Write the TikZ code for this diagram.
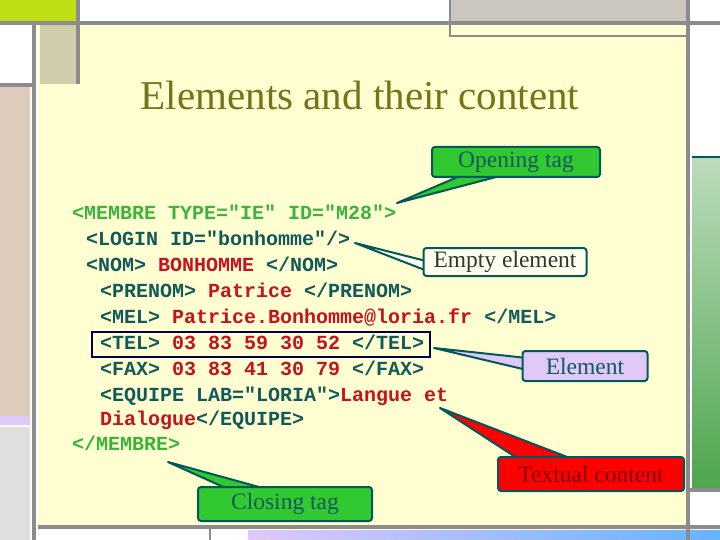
\documentclass[tikz,border=0pt]{standalone}
\usepackage{fontspec}
\setmainfont{Liberation Serif}
\setmonofont{Liberation Mono}
\begin{document}
\begin{tikzpicture}[x=1pt,y=-1pt,
  code/.style={anchor=base west,inner sep=0pt,font=\ttfamily\bfseries\fontsize{20}{20}\selectfont},
  callout/.style={draw=teal!70!black,line width=2pt,rounded corners=3pt,minimum height=30pt,inner sep=2pt,font=\fontsize{23.5}{23.5}\selectfont},
  grayline/.style={draw=gray!90,line width=4pt}]
\definecolor{cream}{RGB}{255,255,210}
\definecolor{tg}{RGB}{60,180,60}
\definecolor{tt}{RGB}{16,90,90}
\definecolor{tr}{RGB}{200,16,32}
\definecolor{cgreen}{RGB}{50,200,50}
\definecolor{lav}{RGB}{224,200,248}
\useasboundingbox (0,0) rectangle (720,540);
\fill[white] (0,0) rectangle (720,540);
\fill[cream] (38,24) rectangle (688,525);
\fill[yellow!75!green] (0,0) rectangle (78,22);
\fill[gray!30!yellow!40!gray!60] (40,24) rectangle (78,84);
\fill[gray!35!brown!40] (0,86) rectangle (30,416);
\fill[lav] (0,416) rectangle (30,425);
\fill[gray!25] (0,427) rectangle (30,540);
\fill[brown!20!gray!45] (450,0) rectangle (688,22);
\shade[top color=green!30!gray!40,bottom color=green!50!black!70] (692,157) rectangle (720,490);
\shade[left color=lav,right color=blue!50!cyan!60] (248,530) rectangle (720,540);
\draw[grayline] (0,23) -- (720,23);
\draw[grayline] (34,24) -- (34,540);
\draw[grayline] (0,85) -- (34,85);
\draw[grayline] (78,0) -- (78,84);
\draw[grayline] (688,0) -- (688,540);
\draw[grayline] (38,527) -- (720,527);
\draw[grayline] (688,490) -- (720,490);
\draw[gray!90,line width=2pt] (450,0) -- (450,36) -- (688,36);
\draw[gray!90,line width=2pt] (210,527) -- (210,540);
\draw[teal!70!black,line width=2pt] (692,157) -- (720,157);
\node[text=olive!80!black,font=\fontsize{41}{41}\selectfont] (title) at (360,95) {Elements and their content};
% code
\node[code,text=tg] (l1) at (72,219) {<MEMBRE TYPE="IE" ID="M28">};
\node[code,text=tt] (l2) at (86,245) {<LOGIN ID="bonhomme"/>};
\node[code,text=tt] (l3) at (86,271) {<NOM> \textcolor{tr}{BONHOMME} </NOM>};
\node[code,text=tt] (l4) at (100,297) {<PRENOM> \textcolor{tr}{Patrice} </PRENOM>};
\node[code,text=tt] (l5) at (100,323) {<MEL> \textcolor{tr}{Patrice.Bonhomme@loria.fr} </MEL>};
\node[code,text=tt] (l6) at (100,349) {<TEL> \textcolor{tr}{03 83 59 30 52} </TEL>};
\node[code,text=tt] (l7) at (100,375) {<FAX> \textcolor{tr}{03 83 41 30 79} </FAX>};
\node[code,text=tt] (l8) at (100,401) {<EQUIPE LAB="LORIA">\textcolor{tr}{Langue et}};
\node[code,text=tt] (l9) at (100,425) {\textcolor{tr}{Dialogue}</EQUIPE>};
\node[code,text=tg] (l10) at (72,450) {</MEMBRE>};
\node[draw=blue!30!black,line width=2pt,minimum width=338pt,minimum height=25pt,inner sep=0pt] (telbox) at (261,344) {};
% callouts
\coordinate (t1) at (397,203);
\coordinate (t2) at (355,243);
\coordinate (t3) at (434,348);
\coordinate (t4) at (440,408);
\coordinate (t5) at (168,462);
\begin{scope}[draw=teal!70!black,line width=2pt,line join=round]
\filldraw[fill=cgreen] (460,176) -- (t1) -- (500,176) -- cycle;
\filldraw[fill=cream!40!white] (430,262) -- (t2) -- (430,272) -- cycle;
\filldraw[fill=lav] (527,358) -- (t3) -- (527,370) -- cycle;
\filldraw[fill=red] (520,460) -- (t4) -- (575,460) -- cycle;
\filldraw[fill=cgreen] (230,490) -- (t5) -- (270,490) -- cycle;
\end{scope}
\node[callout,fill=cgreen,text=tt,minimum width=168pt] (open) at (516,162) {Opening tag};
\node[callout,fill=cream!40!white,text=black!80,minimum width=163pt,minimum height=28pt] (empty) at (505,262) {Empty element};
\node[callout,fill=lav,text=tt,minimum width=125pt] (elem) at (585,366) {Element};
\node[callout,fill=red,text=red!50!black,minimum width=186pt,minimum height=34pt] (text) at (591,474) {Textual content};
\node[callout,fill=cgreen,text=tt,minimum width=174pt,minimum height=34pt] (close) at (285,504) {Closing tag};
\end{tikzpicture}
\end{document}
